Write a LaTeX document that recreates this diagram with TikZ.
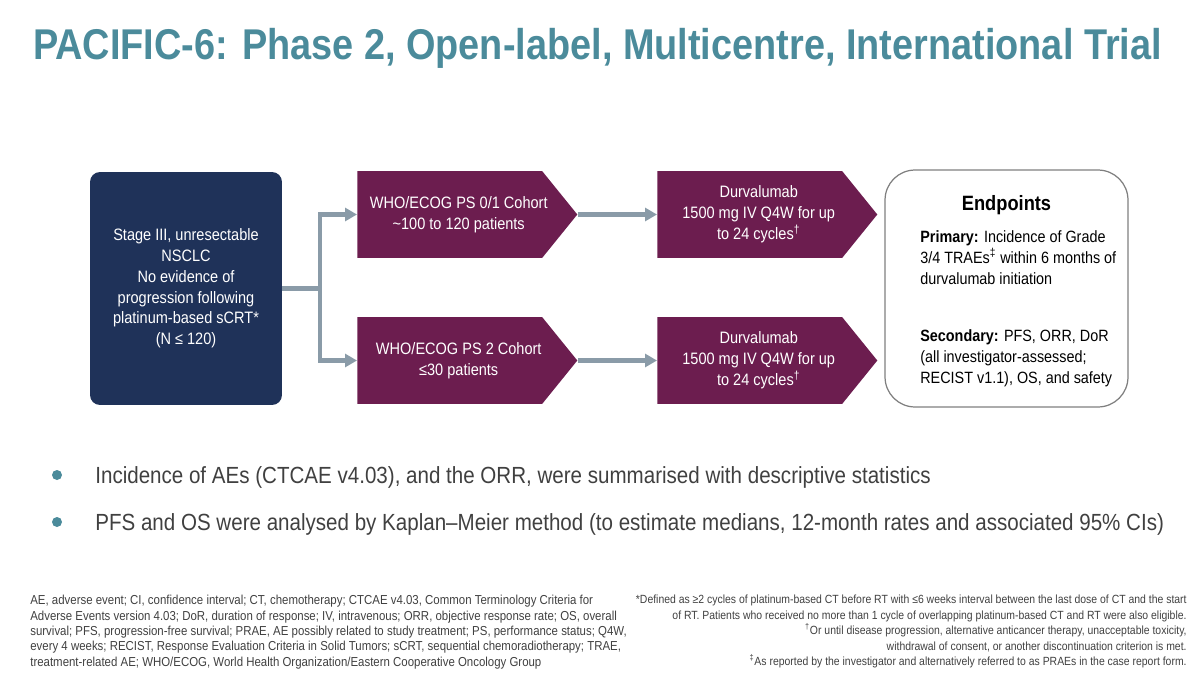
\documentclass[tikz,border=0pt]{standalone}
\usepackage{fontspec}
\setmainfont{Liberation Sans}[FakeStretch=0.88]
\usepackage{tikz}
\usetikzlibrary{positioning, arrows.meta, calc, shapes.symbols}
\definecolor{cTitle}{RGB}{75,139,155}
\definecolor{cNavy}{RGB}{31,50,89}
\definecolor{cPurple}{RGB}{108,29,79}
\definecolor{cArrow}{RGB}{138,155,168}
\definecolor{cText}{RGB}{64,64,64}
\definecolor{cBorder}{RGB}{127,127,127}

\begin{document}
\begin{tikzpicture}[x=0.02cm, y=-0.02cm, >={Triangle[length=0.24cm, width=0.26cm]},
    chev/.style={shape=signal, signal to=east, signal pointer angle=102, fill=cPurple,
        minimum width=4.4cm, minimum height=1.74cm, inner sep=0pt},
    chevtext/.style={text=white, inner sep=0pt, align=center, font=\fontsize{9.4}{12}\selectfont},
    conn/.style={draw=cArrow, line width=2.3pt, miter limit=10},
    note/.style={inner sep=0pt, text=cText}]

    \useasboundingbox (0,0) rectangle (1200,676);

    % --- Title ---
    \node[anchor=base, inner sep=0pt, text=cTitle, font=\fontsize{24.5}{28}\selectfont\bfseries]
        (title) at (597.5,59) {PACIFIC-6: Phase 2, Open-label, Multicentre, International Trial};

    % --- Population ---
    \node[fill=cNavy, rounded corners=0.2cm, minimum width=3.84cm, minimum height=4.66cm,
        text=white, align=center, font=\fontsize{9.4}{11.8}\selectfont] (stage) at (186,288.5)
        {Stage III, unresectable\\NSCLC\\No evidence of\\progression following\\platinum-based sCRT*\\(N ≤ 120)};

    % --- Cohorts and treatment ---
    \node[chev, anchor=west] (c1) at (357,214.5) {};
    \node[chev, anchor=west] (c2) at (357,360.5) {};
    \node[chev, anchor=west] (d1) at (657,214.5) {};
    \node[chev, anchor=west] (d2) at (657,360.5) {};
    \node[chevtext] (c1text) at ([xshift=0.18cm]c1.center) {WHO/ECOG PS 0/1 Cohort\\\textasciitilde100 to 120 patients};
    \node[chevtext] (c2text) at ([xshift=0.18cm]c2.center) {WHO/ECOG PS 2 Cohort\\≤30 patients};
    \node[chevtext] (d1text) at ([xshift=0.18cm]d1.center) {Durvalumab\\1500 mg IV Q4W for up\\to 24 cycles\textsuperscript{†}};
    \node[chevtext] (d2text) at ([xshift=0.18cm]d2.center) {Durvalumab\\1500 mg IV Q4W for up\\to 24 cycles\textsuperscript{†}};

    % --- Endpoints ---
    \node[draw=cBorder, line width=0.7pt, rounded corners=0.6cm, minimum width=4.86cm,
        minimum height=4.74cm] (ends) at (1006.5,288.5) {};
    \node[anchor=base, inner sep=0pt, font=\fontsize{11.8}{14}\selectfont\bfseries] (endhead) at (1006.5,210) {Endpoints};
    \node[anchor=north west, inner sep=0pt, align=left, font=\fontsize{9.3}{11.8}\selectfont] (primary) at (920,230.5)
        {\textbf{Primary:} Incidence of Grade\\3/4 TRAEs\textsuperscript{‡} within 6 months of\\durvalumab initiation};
    \node[anchor=north west, inner sep=0pt, align=left, font=\fontsize{9.3}{11.8}\selectfont] (secondary) at (920,329.5)
        {\textbf{Secondary:} PFS, ORR, DoR\\(all investigator-assessed;\\RECIST v1.1), OS, and safety};

    % --- Connectors ---
    \coordinate (split) at (320,288.5);
    \draw[conn] (stage.east) -- (split);
    \draw[conn, ->] (split) |- (c1.west);
    \draw[conn, ->] (split) |- (c2.west);
    \foreach \i in {1,2} {
        \draw[conn, ->] (c\i.east) -- (d\i.west);
    }

    % --- Bullets ---
    \foreach \y in {475,522} {
        \fill[cTitle] (57,\y) circle (0.1cm);
    }
    \node[anchor=base west, inner sep=0pt, text=cText, font=\fontsize{13.3}{16}\selectfont] (b1) at (95,483)
        {Incidence of AEs (CTCAE v4.03), and the ORR, were summarised with descriptive statistics};
    \node[anchor=base west, inner sep=0pt, text=cText, font=\fontsize{13.3}{16}\selectfont] (b2) at (95,530)
        {PFS and OS were analysed by Kaplan–Meier method (to estimate medians, 12-month rates and associated 95\% CIs)};

    % --- Footnotes ---
    \node[note, anchor=north west, align=left, font=\fontsize{7.4}{8.75}\selectfont] (abbr) at (30,595)
        {AE, adverse event; CI, confidence interval; CT, chemotherapy; CTCAE v4.03, Common Terminology Criteria for\\
         Adverse Events version 4.03; DoR, duration of response; IV, intravenous; ORR, objective response rate; OS, overall\\
         survival; PFS, progression-free survival; PRAE, AE possibly related to study treatment; PS, performance status; Q4W,\\
         every 4 weeks; RECIST, Response Evaluation Criteria in Solid Tumors; sCRT, sequential chemoradiotherapy; TRAE,\\
         treatment-related AE; WHO/ECOG, World Health Organization/Eastern Cooperative Oncology Group};
    \node[note, anchor=north east, align=right, font=\fontsize{6.75}{8.75}\selectfont] (fnotes) at (1187,595)
        {*Defined as ≥2 cycles of platinum-based CT before RT with ≤6 weeks interval between the last dose of CT and the start\\
         of RT. Patients who received no more than 1 cycle of overlapping platinum-based CT and RT were also eligible.\\
         \textsuperscript{†}Or until disease progression, alternative anticancer therapy, unacceptable toxicity,\\
         withdrawal of consent, or another discontinuation criterion is met.\\
         \textsuperscript{‡}As reported by the investigator and alternatively referred to as PRAEs in the case report form.};

\end{tikzpicture}
\end{document}
